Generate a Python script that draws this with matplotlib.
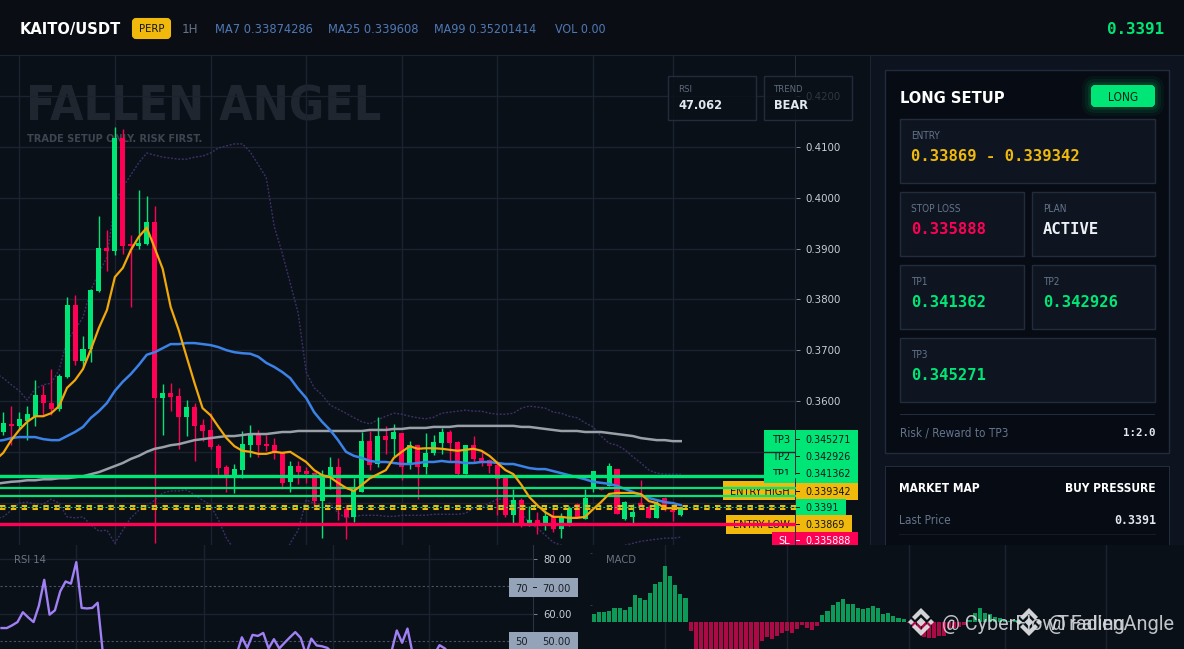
import numpy as np
import matplotlib
matplotlib.use("Agg")
import matplotlib.pyplot as plt
from matplotlib.patches import Rectangle, FancyBboxPatch, Polygon

UI = "DejaVu Sans"
MONO = "DejaVu Sans Mono"

# ---------- data ----------
opens = [.3539,.3555,.3551,.3561,.3570,.3612,.3596,.3584,.3647,.3789,.3679,.3702,.3817,.3901,.3895,.4118,.3907,.3905,.3909,.3952,
         .3606,.3616,.3610,.3568,.3588,.3553,.3543,.3511,.3470,.3448,.3464,.3513,.3533,.3515,.3513,.3500,.3441,.3472,.3462,.3458,
         .3403,.3454,.3470,.3387,.3372,.3421,.3521,.3476,.3531,.3525,.3537,.3476,.3513,.3470,.3498,.3517,.3539,.3519,.3456,.3513,
         .3488,.3484,.3474,.3448,.3375,.3405,.3360,.3366,.3360,.3373,.3348,.3360,.3397,.3368,.3429,.3431,.3433,.3466,.3368,.3372,
         .3399,.3391,.3370,.3409,.3383,.3375]
highs = [.3578,.3590,.3578,.3590,.3641,.3632,.3663,.3653,.3805,.3809,.3728,.3821,.3964,.3937,.4139,.4135,.3927,.4015,.4004,.3984,
         .3634,.3635,.3626,.3602,.3596,.3565,.3576,.3515,.3474,.3476,.3541,.3553,.3543,.3533,.3527,.3500,.3482,.3482,.3470,.3460,
         .3464,.3490,.3488,.3395,.3448,.3539,.3541,.3568,.3551,.3555,.3537,.3521,.3513,.3537,.3533,.3547,.3543,.3521,.3513,.3531,
         .3500,.3486,.3478,.3448,.3427,.3409,.3393,.3381,.3385,.3385,.3379,.3393,.3399,.3427,.3462,.3431,.3478,.3466,.3403,.3397,
         .3444,.3395,.3405,.3411,.3391,.3391]
lows = [.3533,.3513,.3543,.3523,.3551,.3572,.3572,.3580,.3645,.3671,.3667,.3677,.3815,.3856,.3887,.3889,.3785,.3899,.3907,.3320,
        .3533,.3580,.3506,.3531,.3482,.3521,.3506,.3450,.3421,.3419,.3448,.3490,.3490,.3502,.3486,.3427,.3421,.3437,.3439,.3391,
        .3330,.3427,.3366,.3328,.3362,.3421,.3464,.3470,.3496,.3492,.3444,.3466,.3407,.3456,.3494,.3496,.3480,.3450,.3456,.3480,
        .3472,.3458,.3375,.3372,.3360,.3352,.3354,.3338,.3346,.3342,.3330,.3354,.3370,.3368,.3421,.3425,.3433,.3377,.3366,.3358,
        .3391,.3370,.3370,.3383,.3364,.3373]
closes = [.3557,.3551,.3565,.3574,.3612,.3596,.3584,.3649,.3789,.3679,.3702,.3819,.3901,.3895,.4118,.3905,.3905,.3911,.3952,.3606,
          .3616,.3608,.3568,.3588,.3551,.3541,.3509,.3468,.3448,.3466,.3515,.3535,.3513,.3511,.3500,.3439,.3472,.3460,.3456,.3403,
          .3454,.3470,.3385,.3372,.3423,.3521,.3474,.3531,.3523,.3539,.3470,.3513,.3470,.3498,.3519,.3539,.3517,.3456,.3513,.3486,
          .3482,.3472,.3446,.3375,.3405,.3360,.3366,.3358,.3373,.3348,.3373,.3389,.3370,.3409,.3462,.3425,.3472,.3377,.3401,.3381,
          .3391,.3370,.3399,.3391,.3381,.3389]
# moving averages and bands start one bar before the first visible candle
ma7 = [.3484,.3498,.3523,.3543,.3559,.3570,.3570,.3576,.3590,.3626,.3641,.3663,.3702,.3744,.3779,.3844,.3862,.3897,.3923,.3941,
       .3901,.3860,.3785,.3740,.3687,.3635,.3586,.3572,.3549,.3527,.3511,.3502,.3500,.3496,.3496,.3500,.3498,.3500,.3490,.3480,
       .3464,.3454,.3450,.3439,.3429,.3423,.3435,.3448,.3456,.3464,.3488,.3500,.3511,.3506,.3507,.3507,.3506,.3504,.3502,.3504,
       .3506,.3502,.3492,.3478,.3464,.3456,.3435,.3411,.3395,.3381,.3372,.3372,.3370,.3370,.3372,.3387,.3401,.3417,.3419,.3419,
       .3419,.3417,.3403,.3399,.3389,.3389,.3389]
ma25 = [.3521,.3523,.3527,.3529,.3529,.3529,.3525,.3523,.3523,.3531,.3539,.3549,.3567,.3580,.3596,.3620,.3638,.3653,.3671,.3691,
        .3696,.3704,.3712,.3712,.3714,.3714,.3712,.3710,.3706,.3700,.3696,.3694,.3693,.3687,.3675,.3667,.3657,.3645,.3624,.3606,
        .3578,.3559,.3543,.3523,.3500,.3492,.3488,.3482,.3480,.3480,.3478,.3476,.3476,.3478,.3480,.3480,.3482,.3480,.3480,.3478,
        .3478,.3480,.3480,.3478,.3476,.3476,.3472,.3468,.3466,.3466,.3462,.3458,.3454,.3450,.3446,.3441,.3439,.3437,.3433,.3427,
        .3421,.3415,.3409,.3405,.3401,.3399,.3395]
ma99 = [.3437,.3439,.3441,.3442,.3444,.3444,.3446,.3446,.3448,.3448,.3450,.3452,.3456,.3460,.3466,.3472,.3478,.3486,.3492,.3500,
        .3506,.3509,.3513,.3515,.3519,.3523,.3525,.3527,.3529,.3531,.3531,.3533,.3535,.3535,.3535,.3537,.3539,.3539,.3541,.3541,
        .3541,.3541,.3541,.3541,.3541,.3541,.3541,.3543,.3543,.3543,.3545,.3545,.3547,.3547,.3547,.3549,.3549,.3549,.3551,.3551,
        .3551,.3551,.3551,.3551,.3551,.3551,.3549,.3549,.3547,.3545,.3543,.3541,.3541,.3541,.3539,.3539,.3539,.3537,.3535,.3533,
        .3531,.3527,.3525,.3523,.3523,.3521,.3521]
bb_up = [.3655,.3645,.3632,.3620,.3602,.3624,.3632,.3635,.3661,.3720,.3740,.3765,.3819,.3852,.3883,.3990,.4021,.4045,.4069,.4088,
         .4084,.4080,.4078,.4076,.4076,.4080,.4082,.4088,.4098,.4102,.4106,.4106,.4090,.4065,.4039,.3943,.3891,.3832,.3773,.3657,
         .3626,.3612,.3592,.3584,.3576,.3567,.3559,.3555,.3563,.3570,.3576,.3574,.3570,.3567,.3565,.3568,.3576,.3578,.3580,.3582,
         .3580,.3580,.3576,.3574,.3574,.3576,.3586,.3590,.3588,.3586,.3578,.3576,.3570,.3567,.3557,.3549,.3531,.3517,.3513,.3504,
         .3490,.3478,.3464,.3458,.3456,.3456,.3456]
bb_lo = [.3368,.3372,.3385,.3399,.3401,.3397,.3397,.3407,.3399,.3372,.3370,.3372,.3356,.3344,.3346,.3320,.3346,.3370,.3385,.3393,
         .3405,.3419,.3423,.3423,.3425,.3415,.3405,.3395,.3366,.3330,.3307,.3287,.3267,.3257,.3257,.3267,.3287,.3320,.3346,.3405,
         .3399,.3395,.3399,.3379,.3370,.3373,.3375,.3375,.3375,.3373,.3373,.3375,.3375,.3375,.3375,.3377,.3377,.3377,.3377,.3379,
         .3389,.3391,.3399,.3407,.3407,.3401,.3379,.3360,.3350,.3336,.3322,.3316,.3310,.3307,.3297,.3297,.3303,.3307,.3310,.3316,
         .3320,.3324,.3326,.3328,.3330,.3330,.3332]
price_ticks = [.36,.37,.38,.39,.40,.41,.42]
tp3, tp2, tp1, entry_high, entry_low, stop_loss, last_price = .345271, .342926, .341362, .339342, .33869, .335888, .3391
main_time_grid = [2,14,26,38,50,62,74,84]

rsi = [54.7,54.7,55.7,56.9,60.5,58.6,56.9,62.9,72.4,59.6,61.2,68.2,71.8,71.0,78.9,62.1,61.9,62.1,64.0,45.0,
       42,41,41,40,40,39,39,38,39,40,40,41,41,42,42,43,42,43,44,43,43,44,44,45,45,
       51.3,47.4,52.2,51.8,52.9,47.2,50.6,47.2,49.3,51.3,53.2,51.1,45.0,50.8,48.3,48.0,47.4,45.6,
       44,43,43,42,42,43,43,44,44,45,46.0,53.8,49.3,54.5,45.0,43,43,44,45.0,48.4,47.2,45.0,44]
rsi_ticks = [60,80]
rsi_guides = [50,70]
rsi_time_grid = [14,38,62,80]

macd_hist = [25,30,32,35,42,43,37,46,82,73,67,88,115,121,169,139,112,85,73,
             -26,-88,-98,-108,-113,-113,-113,-113,-113,-113,-113,-108,-98,-80,-56,-43,-50,-40,-32,-26,-32,-20,-9,-17,-23,-11,
             22,34,52,61,70,55,55,43,40,43,49,43,25,28,19,13,10,
             -3,-18,-23,-43,-46,-46,-40,-40,-18,-16,-13,-8,
             7,29,43,28,24,17,13,6,4,8,4]
macd_time_grid = [14,38,62,81,101]

# ---------- colours ----------
HEAD="#0a0d14"; CHART="#0a1018"; SIDE="#0d1420"; PANEL="#070b14"; CARD="#0e1520"; EDGE="#222c3c"
GRID="#1b232e"; GREEN="#00e676"; RED="#ff0055"; YEL="#f0b90b"; MUTED="#64748b"; BLUEISH="#4f79b5"; DARK="#10161c"
plt.rcParams["font.family"] = [UI]
plt.rcParams["font.stretch"] = "condensed"

fig = plt.figure(figsize=(11.84, 6.49), dpi=100, facecolor=CHART)
W, H = 1184., 649.
def axes_px(x0, y0, x1, y1, **kw):
    return fig.add_axes([x0/W, 1-y1/H, (x1-x0)/W, (y1-y0)/H], **kw)
def pix_axes(z):
    a = fig.add_axes([0,0,1,1], zorder=z); a.set_xlim(0,W); a.set_ylim(H,0); a.axis("off"); a.patch.set_alpha(0)
    return a

bg = pix_axes(0)
def rect(a, x0,y0,x1,y1, fc, ec="none", lw=0.8, alpha=None, z=1):
    a.add_patch(Rectangle((x0,y0), x1-x0, y1-y0, fc=fc, ec=ec, lw=lw, alpha=alpha, zorder=z))
def T(a, x, y, s, color="w", size=9, weight="normal", ha="left", family=UI, alpha=None, z=5):
    a.text(x, y, s, color=color, fontsize=size, fontweight=weight, ha=ha, va="center_baseline", family=family,
           stretch="normal" if family!=UI else "condensed", alpha=alpha, zorder=z)

rect(bg,0,0,W,55,HEAD)
rect(bg,0,55,W,56,"#1c2430")
rect(bg,0,56,870,545,CHART)
rect(bg,871,56,W,545,SIDE)
rect(bg,870,56,871,545,"#1c2430")
T(bg,26,102,"FALLEN ANGEL",color="#1f262f",size=34.6,weight="bold")
T(bg,27,138,"TRADE SETUP ONLY. RISK FIRST.",color="#3d4650",size=7.85,weight="bold")

# chart price tags (under the level lines)
TAG_L, TAG_R = 7.8, 7.7
def tag(a,x0,x1,y0,y1,color,left,right,ytxt,tcolor=DARK):
    rect(a,x0,y0,x1,y1,color,z=2)
    if left: T(a,790,ytxt,left,color=tcolor,size=TAG_L,ha="right",z=3)
    T(a,805,ytxt,right,color=tcolor,size=TAG_R,z=3)
tag(bg,723,858,481,500,YEL,"ENTRY HIGH","0.339342",491)
tag(bg,796,846,499,517,GREEN,None,"0.3391",507)
tag(bg,726,852,515,534,YEL,"ENTRY LOW","0.33869",524)
tag(bg,772,858,532,545,RED,"SL","0.335888",540,tcolor="w")
tag(bg,764,858,430,483,GREEN,"TP3","0.345271",439)
T(bg,790,456,"TP2",color=DARK,size=TAG_L,ha="right",z=3); T(bg,805,456,"0.342926",color=DARK,size=TAG_R,z=3)
T(bg,790,473,"TP1",color=DARK,size=TAG_L,ha="right",z=3); T(bg,805,473,"0.341362",color=DARK,size=TAG_R,z=3)
rect(bg,795.3,430,796.3,545,"#0b1017",z=3)
for yy in [439,456,473,491,507,524,540]:
    rect(bg,796,yy-0.5,800,yy+0.5,DARK if yy!=540 else "w",z=3)

# ---------- main chart ----------
ax = axes_px(0,56,796,545, zorder=1, facecolor="none")
ax.set_xlim(-0.414, 99.46); ax.set_ylim(0.33166, 0.4279)
for s in ax.spines.values(): s.set_visible(False)
idx = np.arange(len(opens))
for i,o,h,l,c in zip(idx,opens,highs,lows,closes):
    col = GREEN if c >= o else RED
    ax.vlines(i,l,h,color=col,lw=1.0,zorder=3)
    ax.bar(i,max(abs(c-o),0.00035),bottom=min(o,c),width=0.63,color=col,zorder=3,lw=0)
mx = np.arange(len(ma7))-1
ax.plot(mx,bb_up,color="#3b3168",lw=1.0,ls=(0,(1.4,1.2)),zorder=2)
ax.plot(mx,bb_lo,color="#3b3168",lw=1.0,ls=(0,(1.4,1.2)),zorder=2)
ax.plot(mx,ma99,color="#9aa0a8",lw=1.8,zorder=4)
ax.plot(mx,ma25,color="#3b82e6",lw=1.8,zorder=4)
ax.plot(mx,ma7,color="#f0a80a",lw=1.6,zorder=6)
ax.axhline(tp3,color=GREEN,lw=2.4,zorder=5)
ax.axhline(tp2,color=GREEN,lw=1.6,zorder=5)
ax.axhline(tp1,color=GREEN,lw=1.6,zorder=5)
ax.axhline(entry_high,color=YEL,lw=1.5,ls=(0,(2.6,2.6)),zorder=5)
ax.axhline(entry_low,color=YEL,lw=1.5,ls=(0,(2.6,2.6)),zorder=5)
ax.axhline(last_price,color=GREEN,lw=0.7,ls=(0,(2,2)),zorder=5)
ax.axhline(stop_loss,color=RED,lw=2.4,zorder=5)
ax.set_yticks(price_ticks); ax.set_yticklabels([f"{v:.4f}" for v in price_ticks])
ax.tick_params(axis="y",left=False,right=True,labelleft=False,labelright=True,length=3,width=.7,color="#7a8492",pad=3.5,labelcolor="#c9ced6",labelsize=8.2)
ax.set_xticks(main_time_grid); ax.tick_params(axis="x",bottom=False,labelbottom=False)
ax.grid(True,color=GRID,lw=1); ax.set_axisbelow(True)
for v in [.35,.34]: ax.axhline(v,color=GRID,lw=1,zorder=0.5)
ax.axvline(99.4,color="#2a3442",lw=1.2,zorder=0.5)

# ---------- RSI ----------
r = axes_px(0,545,533,649, zorder=2, facecolor=CHART)
r.set_xlim(-0.28,99.5); r.set_ylim(47.0,85.2)
for s in r.spines.values(): s.set_visible(False)
r.spines["right"].set_visible(True); r.spines["right"].set_color("#2a3442")
r.plot(np.arange(len(rsi)),rsi,color="#a080f5",lw=1.7)
r.set_yticks(rsi_ticks); r.set_yticklabels([f"{v:.2f}" for v in rsi_ticks])
r.tick_params(axis="y",left=False,right=True,labelleft=False,labelright=True,length=3,width=.7,color="#7a8492",pad=4.5,labelcolor="#c9ced6",labelsize=8)
r.set_xticks(rsi_time_grid); r.tick_params(axis="x",bottom=False,labelbottom=False)
r.grid(axis="x",color=GRID,lw=1)
for v in rsi_ticks: r.axhline(v,color=GRID,lw=1,zorder=0.5)
for v in rsi_guides: r.axhline(v,color="#4a5361",lw=.8,ls=(0,(2,2)),zorder=0.5)

# ---------- MACD ----------
m = axes_px(590,545,W,649, zorder=2, facecolor=CHART)
m.set_xlim(-0.83,116.3); m.set_ylim(-80,232)
for s in m.spines.values(): s.set_visible(False)
hist = np.array(macd_hist)
m.bar(np.arange(len(hist)),hist,width=.8,color=np.where(hist>=0,"#0d9a58","#ab0a46"),lw=0,zorder=2)
m.set_xticks(macd_time_grid); m.set_yticks([52,207])
m.tick_params(axis="x",bottom=False,labelbottom=False); m.tick_params(axis="y",left=True,labelleft=False,direction="in",length=1.5,width=.6,color="#3a4452")
m.grid(axis="x",color=GRID,lw=1); m.set_axisbelow(True)

# ---------- overlay ----------
ov = pix_axes(3)
T(ov,20,28,"KAITO/USDT",size=11.8,weight="bold")
ov.add_patch(FancyBboxPatch((133,19),37,19,boxstyle="round,pad=0,rounding_size=3",fc=YEL,ec=YEL,lw=1.5))
T(ov,151.5,28,"PERP",color="#10131a",size=8,ha="center")
T(ov,182,28,"1H",color=MUTED,size=9.6)
T(ov,215,28,"MA7 0.33874286",color=BLUEISH,size=9.2)
T(ov,328,28,"MA25 0.339608",color=BLUEISH,size=9.2)
T(ov,434,28,"MA99 0.35201414",color=BLUEISH,size=8.9)
T(ov,555,28,"VOL 0.00",color=BLUEISH,size=8.9)
T(ov,1164,28,"0.3391",color=GREEN,size=11.4,weight="bold",ha="right",family=MONO)

for x0,x1,lab,val in [(668,756,"RSI","47.062"),(764,852,"TREND","BEAR")]:
    rect(ov,x0,76,x1,120,CHART,alpha=.8)
    rect(ov,x0,76,x1,120,"none",ec=EDGE,lw=1)
    T(ov,x0+10,89,lab,color="#5f6b7c",size=6.8)
    T(ov,x0+10,104,val,color="#e2e8f0",size=9.2,weight="bold")

rect(ov,509,578,578,597,"#94a3b8"); rect(ov,509,632,578,649,"#94a3b8")
for y0,t in [(587.5,70),(641,50)]:
    T(ov,522,y0,str(t),color="#1a2029",size=8,ha="center")
    rect(ov,532.6,y0-10,533.4,y0+10,"#1a2029")
    rect(ov,533,y0-.4,537,y0+.4,"#1a2029")
    T(ov,556,y0,f"{t}.00",color="#1a2029",size=8,ha="center")
T(ov,14,559,"RSI 14",color="#6b7380",size=8)
T(ov,606,559,"MACD",color="#6b7380",size=8)

# setup panel
rect(ov,885,70,1169,453,PANEL,ec=EDGE,lw=1)
rect(ov,885,466,1169,545,PANEL)
rect(ov,885,466,1169,467,EDGE); rect(ov,885,466,886,545,EDGE); rect(ov,1168.5,466,1169.5,545,EDGE)
T(ov,900,97,"LONG SETUP",size=11.8,weight="bold")
for g,a_ in [(9,.05),(6,.07),(3,.10)]:
    ov.add_patch(FancyBboxPatch((1091-g,85-g),64+2*g,22+2*g,boxstyle=f"round,pad=0,rounding_size={4+g}",fc=GREEN,ec="none",alpha=a_))
ov.add_patch(FancyBboxPatch((1092,86),62,20,boxstyle="round,pad=0,rounding_size=3",fc=GREEN,ec=GREEN,lw=1.5))
T(ov,1123,96,"LONG",color="#06251a",size=8.6,ha="center")
def card(x0,y0,x1,y1,lab,val,col):
    rect(ov,x0,y0,x1,y1,CARD,ec=EDGE,lw=1)
    T(ov,x0+11,y0+16,lab,color=MUTED,size=7.2)
    T(ov,x0+11,y0+36,val,color=col,size=11.2,weight="bold",family=MONO)
card(900,119,1155,183,"ENTRY","0.33869 - 0.339342",YEL)
card(900,192,1024,256,"STOP LOSS","0.335888",RED)
card(1032,192,1155,256,"PLAN","ACTIVE","#eef2f7")
card(900,265,1024,329,"TP1","0.341362",GREEN)
card(1032,265,1155,329,"TP2","0.342926",GREEN)
card(900,338,1155,402,"TP3","0.345271",GREEN)
rect(ov,900,414,1155,415,EDGE)
T(ov,900,432,"Risk / Reward to TP3",color=MUTED,size=8.4)
T(ov,1155,432,"1:2.0",color="#e2e8f0",size=7.8,weight="bold",ha="right",family=MONO)
T(ov,899,487,"MARKET MAP",size=8.6,weight="bold")
T(ov,1156,487,"BUY PRESSURE",size=8.6,weight="bold",ha="right")
T(ov,899,519,"Last Price",color=MUTED,size=8.6)
T(ov,1156,519,"0.3391",color="#e2e8f0",size=8.4,weight="bold",ha="right",family=MONO)
rect(ov,899,534,1156,535,"#141c28")

# watermarks
def logo(cx,cy,c="#e8eaed"):
    def P(pts): ov.add_patch(Polygon([(cx+px,cy+py) for px,py in pts],closed=True,fc=c,ec="none",alpha=.9,zorder=8))
    P([(0,-4.5),(4.5,0),(0,4.5),(-4.5,0)])
    P([(-13,0),(-10,-3),(-7,0),(-10,3)]); P([(13,0),(10,-3),(7,0),(10,3)])
    P([(0,-14),(9,-5),(6,-2),(0,-8),(-6,-2),(-9,-5)])
    P([(0,14),(9,5),(6,2),(0,8),(-6,2),(-9,5)])
logo(921,622); logo(1029,622)
T(ov,942,623,"@ CyberFlowTrading",color="#d5d8dc",size=14.3,family="Roboto",alpha=.9,z=8)
T(ov,1048,623,"@ FallenAngle",color="#d5d8dc",size=14.3,family="Roboto",alpha=.9,z=8)

fig.savefig("out.png",dpi=100,facecolor=fig.get_facecolor())
